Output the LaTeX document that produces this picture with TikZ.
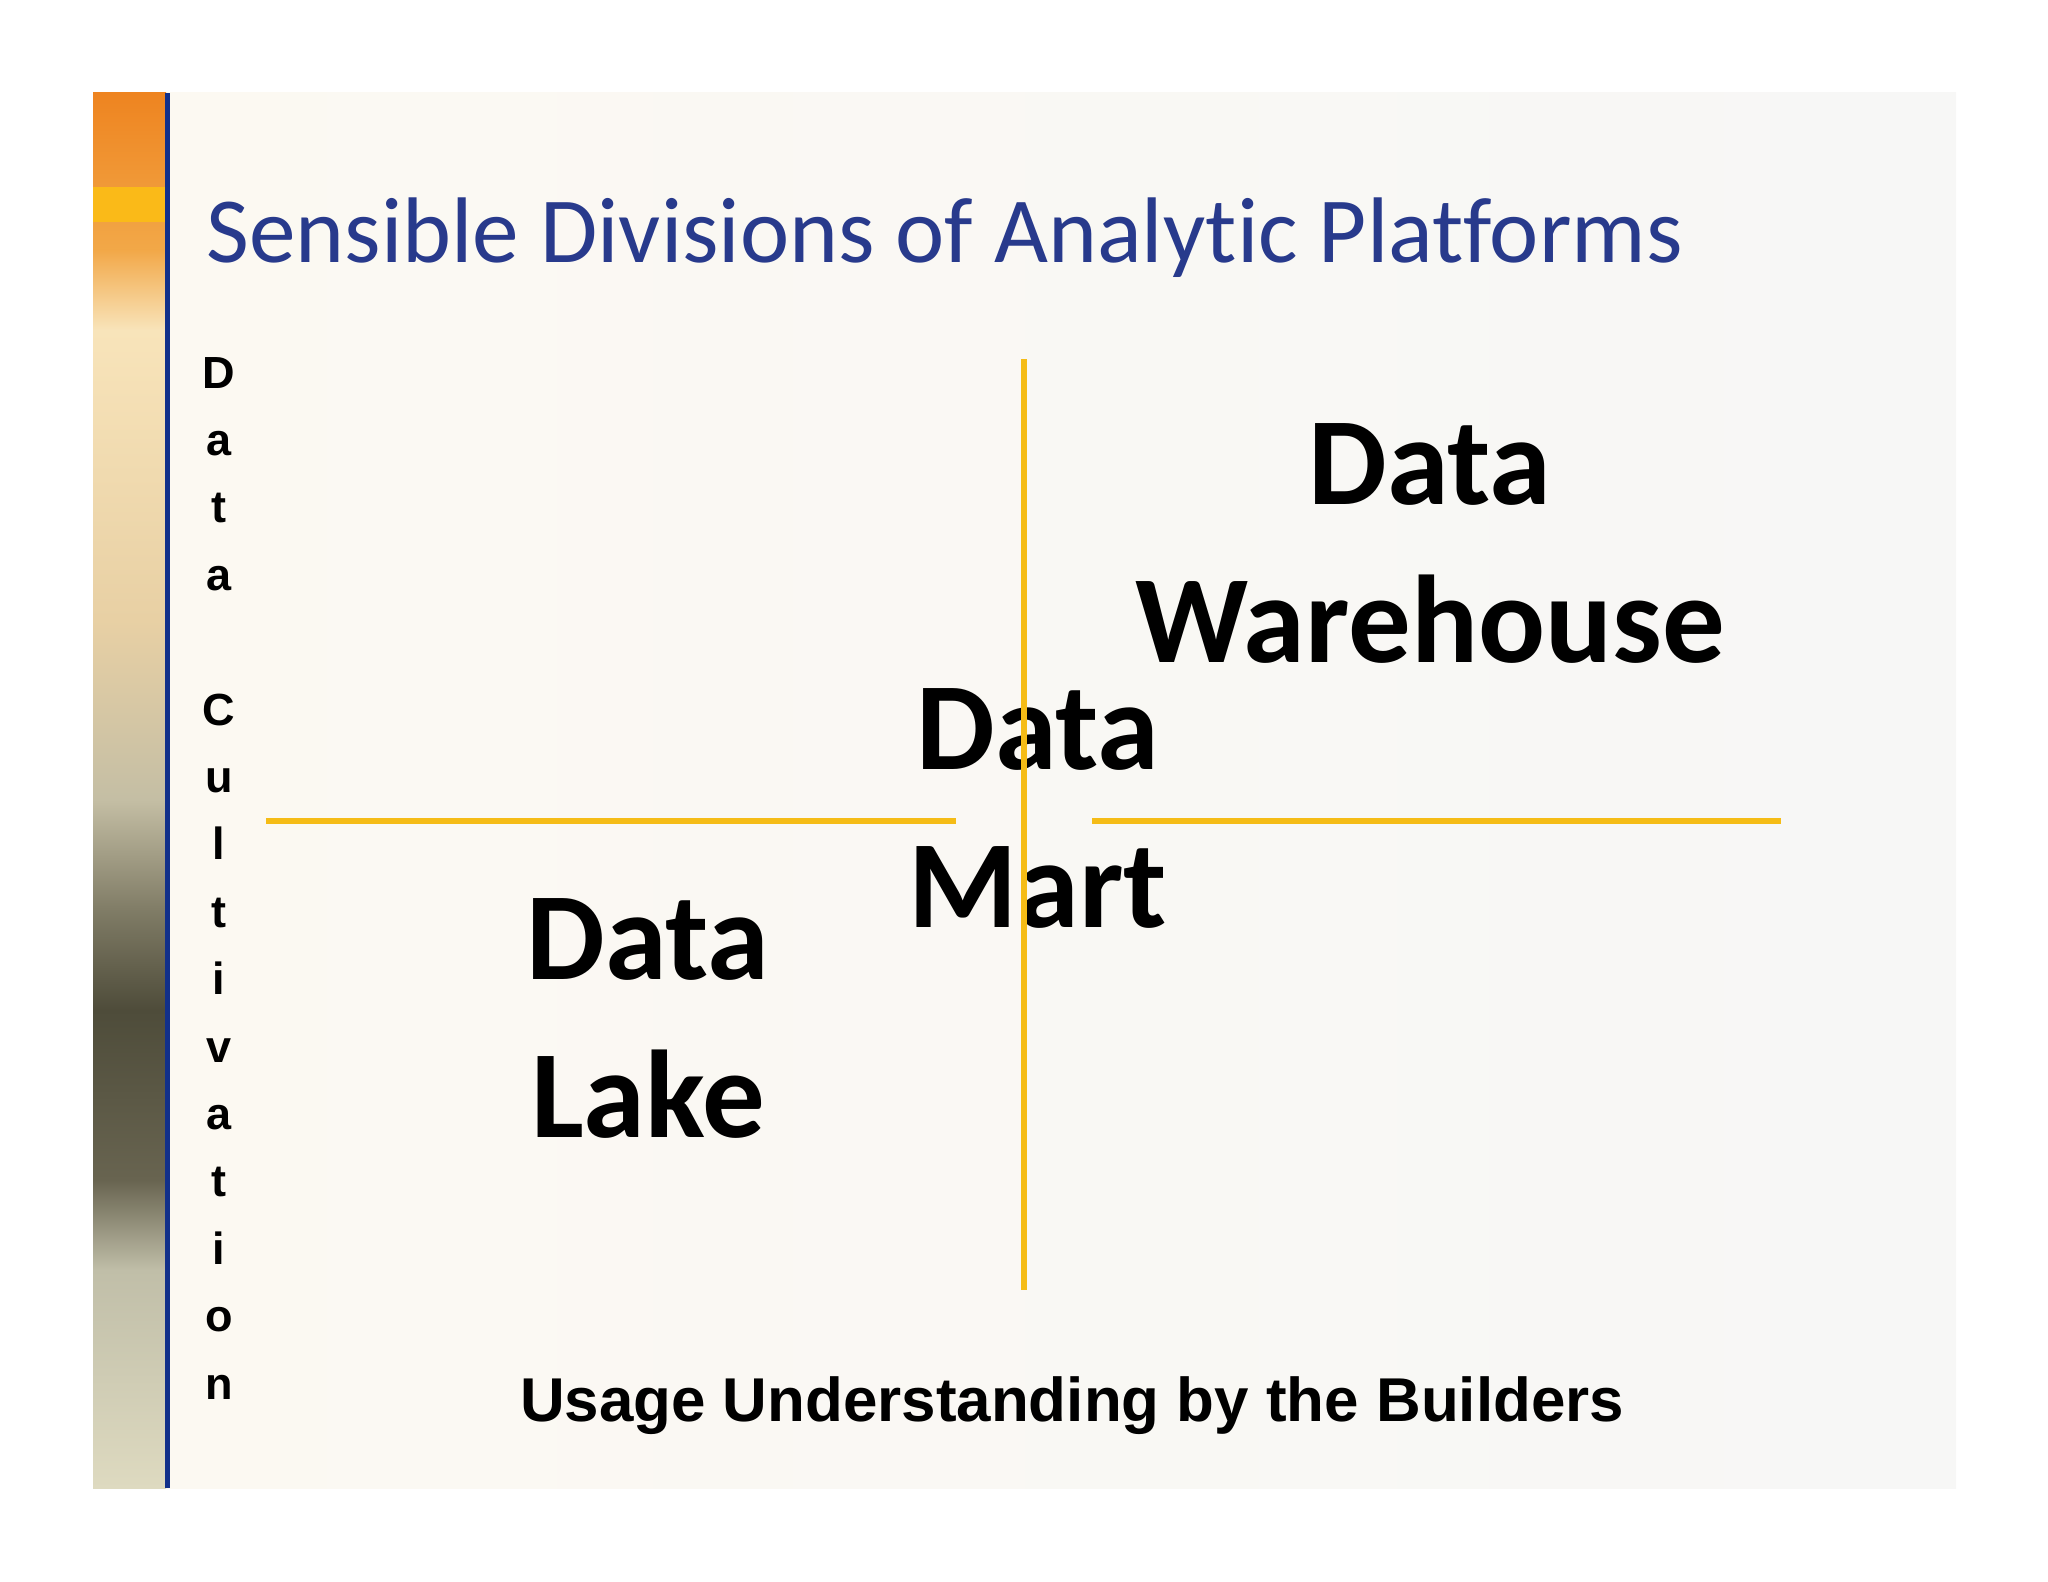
\documentclass[tikz,border=0pt]{standalone}
\usepackage{fontspec}
\setmainfont{Carlito}[Ligatures=NoCommon]
\newfontfamily\arialfont{Liberation Sans}

\definecolor{titleblue}{RGB}{40,58,140}
\definecolor{rulegold}{RGB}{245,188,22}
\definecolor{barblue}{RGB}{18,48,138}
\definecolor{bandgold}{RGB}{250,186,24}
\definecolor{slidecream}{RGB}{252,249,242}
\definecolor{slidegrey}{RGB}{247,247,246}
% colours of the left strip, top to bottom
\definecolor{stripA}{RGB}{238,132,32}
\definecolor{stripB}{RGB}{242,168,72}
\definecolor{stripC}{RGB}{248,228,186}
\definecolor{stripD}{RGB}{232,208,164}
\definecolor{stripE}{RGB}{196,190,164}
\definecolor{stripF}{RGB}{128,124,102}
\definecolor{stripG}{RGB}{78,76,58}
\definecolor{stripH}{RGB}{104,100,80}
\definecolor{stripI}{RGB}{192,190,168}
\definecolor{stripJ}{RGB}{222,218,192}

\begin{document}
\begin{tikzpicture}[
        x=0.01cm, y=-0.01cm,
        bigword/.style={font=\fontsize{35.5}{44.7}\selectfont\bfseries, align=center, anchor=base, inner sep=0pt},
        letter/.style={font=\arialfont\bfseries\fontsize{12.8}{15}\selectfont, anchor=base, inner sep=0pt},
        quadrule/.style={draw=rulegold, line width=1.7pt},
    ]
    \useasboundingbox (0,0) rectangle (2048,1582);

    %====================== SLIDE BACKGROUND ======================
    \shade[left color=slidecream, right color=slidegrey] (93,93) rectangle (1956,1488);

    \foreach \ya/\yb/\ca/\cb in {93/250/stripA/stripB, 250/330/stripB/stripC, 330/620/stripC/stripD,
                                 620/800/stripD/stripE, 800/910/stripE/stripF, 910/1010/stripF/stripG,
                                 1010/1180/stripG/stripH, 1180/1270/stripH/stripI, 1270/1488/stripI/stripJ} {
        \shade[top color=\ca, bottom color=\cb] (93,\ya) rectangle (166,\yb);
    }
    \fill[bandgold] (93,187) rectangle (166,222);
    \fill[barblue] (165,93) rectangle (170,1488);

    %====================== TITLE ======================
    \node[font=\fontsize{26.5}{32}\selectfont, text=titleblue, anchor=base west, inner sep=0pt] (title) at (206,263) {Sensible Divisions of Analytic Platforms};

    %====================== VERTICAL AXIS ======================
    \foreach \l [count=\i from 0] in {D,a,t,a,{},C,u,l,t,i,v,a,t,i,o,n} {
        \node[letter] (cult-\i) at (219, 388+67.4*\i) {\l};
    }

    %====================== QUADRANT LABELS ======================
    % base anchor sits on the second line
    \node[bigword] (dw) at (1430, 662) {Data\\Warehouse};
    \node[bigword] (dm) at (1038, 927) {Data\\Mart};
    \node[bigword] (dl) at (648, 1137) {Data\\Lake};

    \node[font=\arialfont\bfseries\fontsize{17.6}{21}\selectfont, anchor=base, inner sep=0pt] (usage) at (1072,1421) {Usage Understanding by the Builders};

    %====================== QUADRANT RULES ======================
    \draw[quadrule] (1024,359) -- (1024,1290);
    \draw[quadrule] (266,821) -- (956,821);
    \draw[quadrule] (1092,821) -- (1781,821);

\end{tikzpicture}
\end{document}
